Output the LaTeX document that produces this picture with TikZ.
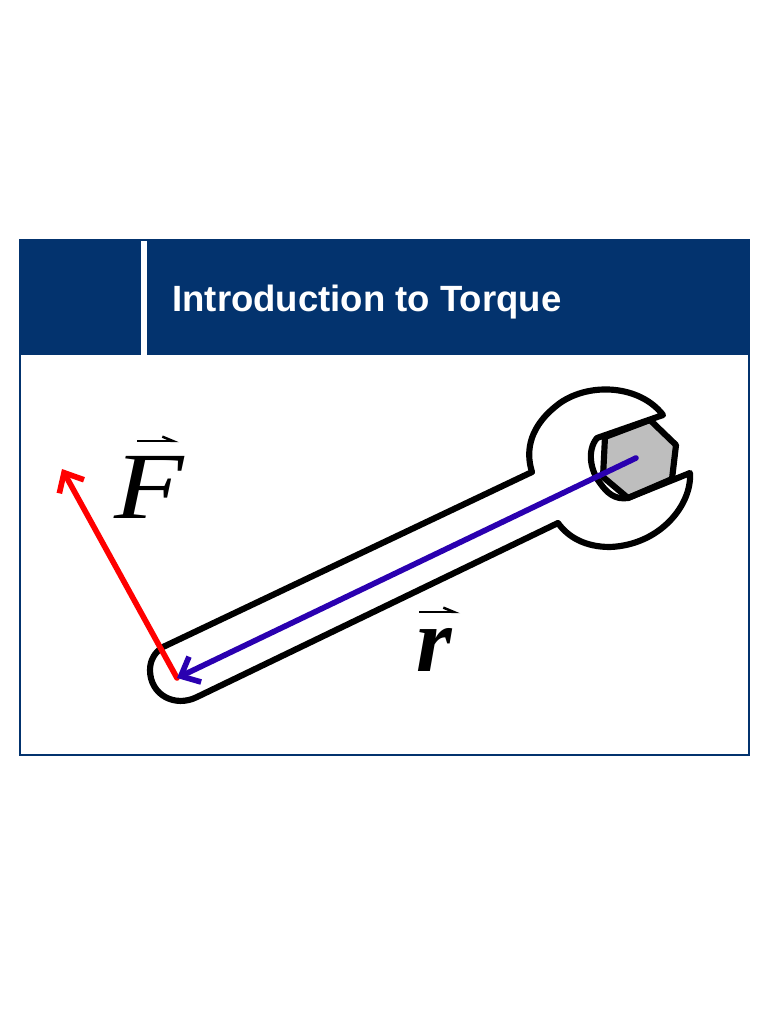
\documentclass[tikz,border=0pt]{standalone}
\usepackage{amsmath}
\usepackage{fontspec}
\setmainfont{Liberation Serif}
\newfontfamily\headfont{Liberation Sans}
\usetikzlibrary{arrows.meta}
\definecolor{headblue}{HTML}{03336E}
\definecolor{rodblue}{HTML}{2A00B0}
\definecolor{nutgray}{HTML}{BEBEBE}
\tikzset{
	vecarrow/.style={line width=3.2pt,line cap=round,-{Straight Barb[length=9pt,width=16pt,line width=3.2pt]}},
	outline/.style={black,line width=3.5pt,line join=round},
	overbar/.style={black,line width=1.4pt,-{Straight Barb[left,length=6pt,width=5pt]}}
}
\begin{document}
\begin{tikzpicture}[x=0.02cm,y=-0.02cm]
	\useasboundingbox (0,0) rectangle (768,1024);
	\fill[white] (0,0) rectangle (768,1024);
	% slide
	\draw[headblue,line width=1pt] (20,240) rectangle (749,755);
	\fill[headblue] (19,240) rectangle (141,355);
	\fill[headblue] (147,240) rectangle (750,355);
	\node[anchor=west,text=white,inner sep=0pt,font=\headfont\bfseries\fontsize{20.8}{25}\selectfont] (title) at (172,302) {Introduction to Torque};
	% nut
	\draw[outline,fill=nutgray] (605,437)--(650,420)--(676,445)--(672,479)--(628,498)--(603,477)--cycle;
	% wrench
	\draw[outline] (532,472) .. controls (525,450) and (530,425) .. (560,403) .. controls (590,382) and (640,385) .. (663,415)
		-- (597,438) .. controls (587,450) and (590,470) .. (600,483) .. controls (607,493) and (615,500) .. (628,498)
		-- (690,473) .. controls (692,505) and (660,545) .. (610,547) .. controls (585,547) and (568,537) .. (558,523)
		-- (197,697) .. controls (175,708) and (150,695) .. (150,670) .. controls (150,660) and (155,652) .. (163,647) -- cycle;
	% vectors
	\coordinate (pivot) at (177,678);
	\coordinate (forcetip) at (62,469);
	\coordinate (nutcentre) at (636,458);
	\draw[vecarrow,red] (pivot) -- (forcetip);
	\draw[vecarrow,rodblue] (nutcentre) -- (pivot);
	% labels
	\node[inner sep=0pt,xscale=1.2,font=\itshape\fontsize{54}{54}\selectfont] (forcelabel) at (149,487) {F};
	\node[inner sep=0pt,font=\bfseries\itshape\fontsize{52}{52}\selectfont] (radiuslabel) at (434,650) {r};
	\draw[overbar] (137,441) -- (179,441);
	\draw[overbar] (419,612) -- (460,612);
\end{tikzpicture}
\end{document}
